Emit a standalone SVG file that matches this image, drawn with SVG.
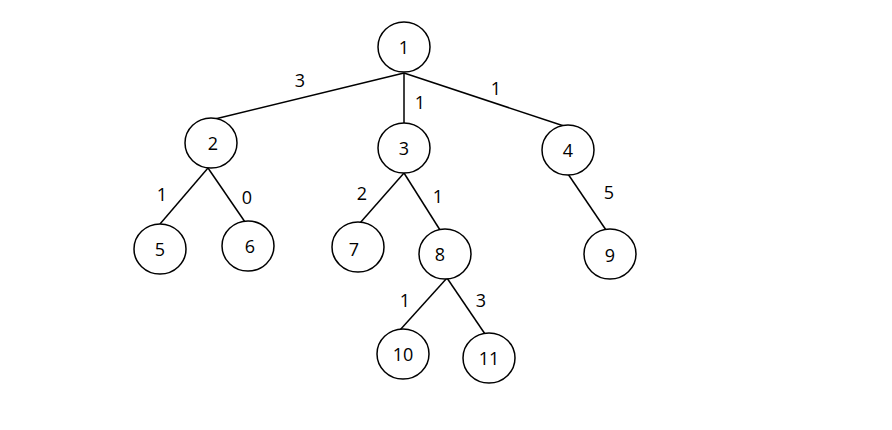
<svg xmlns="http://www.w3.org/2000/svg" width="892" height="430" viewBox="0 0 892 430">
<style>
ellipse{fill:#fff;stroke:#000;stroke-width:1.5}
line{stroke:#000;stroke-width:1.5}
text{font-family:"Open Sans","DejaVu Sans",sans-serif;font-size:18px;fill:#000;text-anchor:middle;dominant-baseline:central}
</style>
<rect width="892" height="430" fill="#fff"/>
<g id="connectors">
<line x1="404" y1="73" x2="215" y2="119"/>
<line x1="404" y1="73" x2="404" y2="123"/>
<line x1="404" y1="73" x2="570" y2="128"/>
<line x1="208" y1="168" x2="160" y2="224"/>
<line x1="208" y1="168" x2="245" y2="222"/>
<line x1="404" y1="173" x2="360" y2="223"/>
<line x1="404" y1="173" x2="440" y2="230"/>
<line x1="568" y1="174" x2="606" y2="230"/>
<line x1="447" y1="278" x2="400" y2="330"/>
<line x1="447" y1="278" x2="485" y2="334"/>
</g>
<g id="edge-labels">
<text x="300" y="80">3</text><text x="420" y="102">1</text><text x="496" y="88">1</text>
<text x="162" y="194">1</text><text x="247" y="197">0</text><text x="362" y="193">2</text>
<text x="438" y="196">1</text><text x="609" y="192">5</text><text x="405" y="300">1</text><text x="481" y="300">3</text>
</g>
<g id="n1"><ellipse cx="404" cy="47" rx="26" ry="25"/><text x="404" y="47">1</text></g>
<g id="n2"><ellipse cx="211" cy="143" rx="26" ry="25"/><text x="213" y="143">2</text></g>
<g id="n3"><ellipse cx="404" cy="148" rx="26" ry="25"/><text x="404" y="148">3</text></g>
<g id="n4"><ellipse cx="568" cy="150" rx="26" ry="25"/><text x="568" y="150">4</text></g>
<g id="n5"><ellipse cx="160" cy="249" rx="26" ry="25"/><text x="160" y="249">5</text></g>
<g id="n6"><ellipse cx="248" cy="246" rx="26" ry="25"/><text x="250" y="246">6</text></g>
<g id="n7"><ellipse cx="358" cy="247" rx="26" ry="25"/><text x="354" y="249">7</text></g>
<g id="n8"><ellipse cx="445" cy="254" rx="26" ry="25"/><text x="440" y="254">8</text></g>
<g id="n9"><ellipse cx="610" cy="254" rx="26" ry="25"/><text x="610" y="255">9</text></g>
<g id="n10"><ellipse cx="403" cy="354" rx="26" ry="25"/><text x="403" y="354">10</text></g>
<g id="n11"><ellipse cx="489" cy="358" rx="26" ry="25"/><text x="489" y="358">11</text></g>
</svg>
